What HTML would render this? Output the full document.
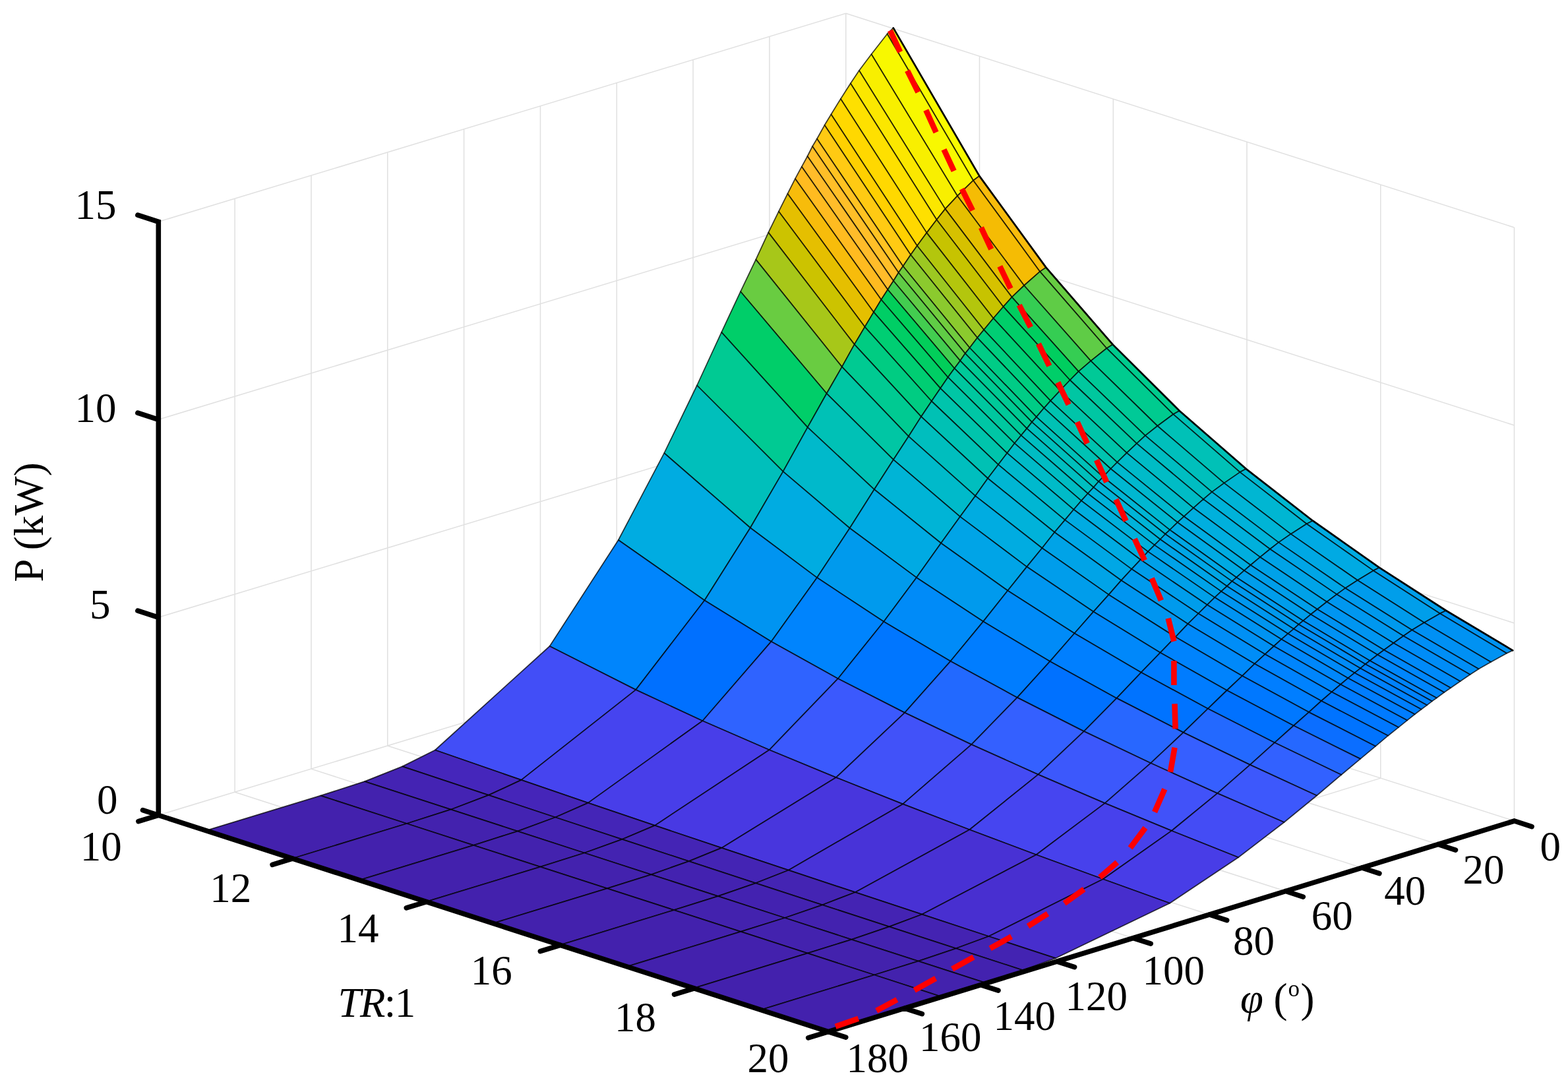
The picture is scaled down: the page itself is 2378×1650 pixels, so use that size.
<!DOCTYPE html>
<html lang="en"><head><meta charset="utf-8"><title>P (kW) vs TR:1 and φ (°)</title>
<style>html,body{margin:0;padding:0;background:#fff}body{width:2378px;height:1650px;overflow:hidden}svg{display:block}</style></head>
<body>
<svg xmlns="http://www.w3.org/2000/svg" width="2378" height="1650" viewBox="0 0 2378 1650">
<rect width="2378" height="1650" fill="#fff"/>
<path d="M1282.8,920.3 L1282.8,20.3 M1167,955.4 L1167,55.4 M1051.1,990.5 L1051.1,90.5 M935.3,1025.6 L935.3,125.6 M819.5,1060.7 L819.5,160.7 M703.6,1095.9 L703.6,195.9 M587.8,1131 L587.8,231 M472,1166.1 L472,266.1 M356.1,1201.2 L356.1,301.2 M1282.8,920.3 L240.3,1236.3 M1282.8,920.3 L2296.5,1245 M1282.8,620.3 L240.3,936.3 M1282.8,620.3 L2296.5,945 M1282.8,320.3 L240.3,636.3 M1282.8,320.3 L2296.5,645 M1282.8,20.3 L240.3,336.3 M1282.8,20.3 L2296.5,345 M1485.5,985.2 L1485.5,85.2 M1688.3,1050.2 L1688.3,150.2 M1891,1115.1 L1891,215.1 M2093.8,1180.1 L2093.8,280.1 M2296.5,1245 L2296.5,345 M1167,955.4 L2180.9,1280.5 M1051.1,990.5 L2065.3,1316 M935.3,1025.6 L1949.7,1351.5 M819.5,1060.7 L1834.1,1387 M703.6,1095.9 L1718.6,1422.6 M587.8,1131 L1603,1458.1 M472,1166.1 L1487.4,1493.6 M356.1,1201.2 L1371.8,1529.1 M1485.5,985.2 L443.5,1302 M1688.3,1050.2 L646.7,1367.6 M1891,1115.1 L849.8,1433.3 M2093.8,1180.1 L1053,1498.9" fill="none" stroke="#e0e0e0" stroke-width="1.5"/>
<g stroke="#000" stroke-opacity="0.74" stroke-width="1.75" stroke-linejoin="round">
<path d="M1354.8,42.4 L1485.3,266.9 L1476,273.7 L1345.5,51.5Z" fill="#f9fb00"/>
<path d="M1345.5,51.5 L1476,273.7 L1452,297.2 L1321.5,82.2Z" fill="#f8f800"/>
<path d="M1321.5,82.2 L1452,297.2 L1433.5,316.9 L1302.9,107Z" fill="#f8ef00"/>
<path d="M1302.9,107 L1433.5,316.9 L1420.5,333.3 L1289.9,126.5Z" fill="#fbe700"/>
<path d="M1289.9,126.5 L1420.5,333.3 L1405.4,353.1 L1274.9,150Z" fill="#fee000"/>
<path d="M1274.9,150 L1405.4,353.1 L1390.9,372.8 L1260.4,173.5Z" fill="#ffd800"/>
<path d="M1260.4,173.5 L1390.9,372.8 L1381.1,386.5 L1250.5,189.8Z" fill="#ffd001"/>
<path d="M1250.5,189.8 L1381.1,386.5 L1369.5,403.8 L1239,210.5Z" fill="#ffca13"/>
<path d="M1239,210.5 L1369.5,403.8 L1362.7,413.5 L1232.1,222Z" fill="#ffc322"/>
<path d="M1232.1,222 L1362.7,413.5 L1355,426 L1224.5,237Z" fill="#ffbf28"/>
<path d="M1224.5,237 L1355,426 L1346.3,439.2 L1215.8,252.8Z" fill="#ffbc2a"/>
<path d="M1215.8,252.8 L1346.3,439.2 L1336.4,454.5 L1205.9,271.1Z" fill="#ffbb20"/>
<path d="M1205.9,271.1 L1336.4,454.5 L1325,473.4 L1194.4,293.8Z" fill="#f7bc0b"/>
<path d="M1194.4,293.8 L1325,473.4 L1311.6,495.8 L1181,320.7Z" fill="#e5bf00"/>
<path d="M1181,320.7 L1311.6,495.8 L1295.8,522.4 L1165.3,352.6Z" fill="#ccc300"/>
<path d="M1165.3,352.6 L1295.8,522.4 L1276.9,556.4 L1146.3,393.6Z" fill="#a7c719"/>
<path d="M1146.3,393.6 L1276.9,556.4 L1253.7,596.8 L1123.1,442.2Z" fill="#69cc41"/>
<path d="M1123.1,442.2 L1253.7,596.8 L1224.8,648.1 L1094.2,503.9Z" fill="#00ce69"/>
<path d="M1094.2,503.9 L1224.8,648.1 L1187.6,715.1 L1057,584.5Z" fill="#00ca93"/>
<path d="M1057,584.5 L1187.6,715.1 L1137.9,800.5 L1007.3,687.2Z" fill="#00bfbb"/>
<path d="M1007.3,687.2 L1137.9,800.5 L1068.5,910.5 L937.8,819Z" fill="#00ace1"/>
<path d="M937.8,819 L1068.5,910.5 L964.3,1046.1 L833.6,980Z" fill="#0085fc"/>
<path d="M833.6,980 L964.3,1046.1 L790.6,1182.9 L659.9,1137.5Z" fill="#424ef7"/>
<path d="M659.9,1137.5 L790.6,1182.9 L741,1205.9 L610.2,1162.4Z" fill="#4526bb"/>
<path d="M610.2,1162.4 L741,1205.9 L683.7,1227.7 L553,1185.1Z" fill="#4423b3"/>
<path d="M553,1185.1 L683.7,1227.7 L616.9,1249 L486.2,1206.7Z" fill="#4322ae"/>
<path d="M486.2,1206.7 L616.9,1249 L443.2,1302 L312.4,1259.6Z" fill="#4321ad"/>
<path d="M1485.3,266.9 L1586.4,405.6 L1577.1,411.9 L1476,273.7Z" fill="#f8bc0c"/>
<path d="M1476,273.7 L1577.1,411.9 L1553.1,433 L1452,297.2Z" fill="#f5bc04"/>
<path d="M1452,297.2 L1553.1,433 L1534.6,450.6 L1433.5,316.9Z" fill="#e5bf00"/>
<path d="M1433.5,316.9 L1534.6,450.6 L1521.6,465.2 L1420.5,333.3Z" fill="#d6c100"/>
<path d="M1420.5,333.3 L1521.6,465.2 L1506.5,482.7 L1405.4,353.1Z" fill="#c7c300"/>
<path d="M1405.4,353.1 L1506.5,482.7 L1492.1,500.2 L1390.9,372.8Z" fill="#b3c60d"/>
<path d="M1390.9,372.8 L1492.1,500.2 L1482.2,512.3 L1381.1,386.5Z" fill="#9cc822"/>
<path d="M1381.1,386.5 L1482.2,512.3 L1470.6,527.5 L1369.5,403.8Z" fill="#8bca2e"/>
<path d="M1369.5,403.8 L1470.6,527.5 L1463.8,536.1 L1362.7,413.5Z" fill="#71cc3e"/>
<path d="M1362.7,413.5 L1463.8,536.1 L1456.2,547.1 L1355,426Z" fill="#60cc46"/>
<path d="M1355,426 L1456.2,547.1 L1447.5,558.7 L1346.3,439.2Z" fill="#43cd50"/>
<path d="M1346.3,439.2 L1447.5,558.7 L1437.6,572.2 L1336.4,454.5Z" fill="#02ce5a"/>
<path d="M1336.4,454.5 L1437.6,572.2 L1426.1,588.9 L1325,473.4Z" fill="#00ce65"/>
<path d="M1325,473.4 L1426.1,588.9 L1412.8,608.5 L1311.6,495.8Z" fill="#00ce73"/>
<path d="M1311.6,495.8 L1412.8,608.5 L1397,631.9 L1295.8,522.4Z" fill="#00cc82"/>
<path d="M1295.8,522.4 L1397,631.9 L1378,661.8 L1276.9,556.4Z" fill="#00ca92"/>
<path d="M1276.9,556.4 L1378,661.8 L1354.9,697.2 L1253.7,596.8Z" fill="#00c6a4"/>
<path d="M1253.7,596.8 L1354.9,697.2 L1325.9,742.3 L1224.8,648.1Z" fill="#00c1b6"/>
<path d="M1224.8,648.1 L1325.9,742.3 L1288.7,801 L1187.6,715.1Z" fill="#00b9cb"/>
<path d="M1187.6,715.1 L1288.7,801 L1239.1,876.1 L1137.9,800.5Z" fill="#00ace1"/>
<path d="M1137.9,800.5 L1239.1,876.1 L1169.7,972.9 L1068.5,910.5Z" fill="#0094f1"/>
<path d="M1068.5,910.5 L1169.7,972.9 L1065.5,1093.2 L964.3,1046.1Z" fill="#0070ff"/>
<path d="M964.3,1046.1 L1065.5,1093.2 L891.9,1217.6 L790.6,1182.9Z" fill="#4644ef"/>
<path d="M790.6,1182.9 L891.9,1217.6 L842.2,1239.5 L741,1205.9Z" fill="#4525b9"/>
<path d="M741,1205.9 L842.2,1239.5 L785,1260.6 L683.7,1227.7Z" fill="#4323b2"/>
<path d="M683.7,1227.7 L785,1260.6 L718.2,1281.8 L616.9,1249Z" fill="#4322ae"/>
<path d="M616.9,1249 L718.2,1281.8 L544.6,1334.8 L443.2,1302Z" fill="#4321ad"/>
<path d="M1586.4,405.6 L1687.5,522.4 L1678.3,528.2 L1577.1,411.9Z" fill="#67cc42"/>
<path d="M1577.1,411.9 L1678.3,528.2 L1654.3,547.4 L1553.1,433Z" fill="#5fcc46"/>
<path d="M1553.1,433 L1654.3,547.4 L1635.7,563.4 L1534.6,450.6Z" fill="#35cd53"/>
<path d="M1534.6,450.6 L1635.7,563.4 L1622.7,576.5 L1521.6,465.2Z" fill="#00ce5f"/>
<path d="M1521.6,465.2 L1622.7,576.5 L1607.7,592.3 L1506.5,482.7Z" fill="#00ce69"/>
<path d="M1506.5,482.7 L1607.7,592.3 L1593.2,607.9 L1492.1,500.2Z" fill="#00ce74"/>
<path d="M1492.1,500.2 L1593.2,607.9 L1583.4,618.8 L1482.2,512.3Z" fill="#00cd7f"/>
<path d="M1482.2,512.3 L1583.4,618.8 L1571.8,632.4 L1470.6,527.5Z" fill="#00cc86"/>
<path d="M1470.6,527.5 L1571.8,632.4 L1565,640.1 L1463.8,536.1Z" fill="#00cb8f"/>
<path d="M1463.8,536.1 L1565,640.1 L1557.3,649.9 L1456.2,547.1Z" fill="#00ca93"/>
<path d="M1456.2,547.1 L1557.3,649.9 L1548.6,660.3 L1447.5,558.7Z" fill="#00c999"/>
<path d="M1447.5,558.7 L1548.6,660.3 L1538.7,672.3 L1437.6,572.2Z" fill="#00c79f"/>
<path d="M1437.6,572.2 L1538.7,672.3 L1527.3,687.2 L1426.1,588.9Z" fill="#00c6a5"/>
<path d="M1426.1,588.9 L1527.3,687.2 L1513.9,704.7 L1412.8,608.5Z" fill="#00c4ac"/>
<path d="M1412.8,608.5 L1513.9,704.7 L1498.1,725.5 L1397,631.9Z" fill="#00c1b4"/>
<path d="M1397,631.9 L1498.1,725.5 L1479.2,752.1 L1378,661.8Z" fill="#00bebe"/>
<path d="M1378,661.8 L1479.2,752.1 L1456.1,783.6 L1354.9,697.2Z" fill="#00baca"/>
<path d="M1354.9,697.2 L1456.1,783.6 L1427.1,823.7 L1325.9,742.3Z" fill="#00b4d6"/>
<path d="M1325.9,742.3 L1427.1,823.7 L1389.9,875.9 L1288.7,801Z" fill="#00aae3"/>
<path d="M1288.7,801 L1389.9,875.9 L1340.3,942.7 L1239.1,876.1Z" fill="#009aed"/>
<path d="M1239.1,876.1 L1340.3,942.7 L1270.9,1029.2 L1169.7,972.9Z" fill="#0084fd"/>
<path d="M1169.7,972.9 L1270.9,1029.2 L1166.7,1137.3 L1065.5,1093.2Z" fill="#2f63ff"/>
<path d="M1065.5,1093.2 L1166.7,1137.3 L993.1,1251.9 L891.9,1217.6Z" fill="#483ee9"/>
<path d="M891.9,1217.6 L993.1,1251.9 L943.5,1272.9 L842.2,1239.5Z" fill="#4425b7"/>
<path d="M842.2,1239.5 L943.5,1272.9 L886.3,1293.5 L785,1260.6Z" fill="#4323b1"/>
<path d="M785,1260.6 L886.3,1293.5 L819.5,1314.6 L718.2,1281.8Z" fill="#4322ae"/>
<path d="M718.2,1281.8 L819.5,1314.6 L645.9,1367.6 L544.6,1334.8Z" fill="#4321ad"/>
<path d="M1687.5,522.4 L1788.7,622.9 L1779.4,628.3 L1678.3,528.2Z" fill="#00cb8d"/>
<path d="M1678.3,528.2 L1779.4,628.3 L1755.4,646 L1654.3,547.4Z" fill="#00cb8f"/>
<path d="M1654.3,547.4 L1755.4,646 L1736.9,660.6 L1635.7,563.4Z" fill="#00c997"/>
<path d="M1635.7,563.4 L1736.9,660.6 L1723.9,672.6 L1622.7,576.5Z" fill="#00c79e"/>
<path d="M1622.7,576.5 L1723.9,672.6 L1708.8,686.9 L1607.7,592.3Z" fill="#00c6a3"/>
<path d="M1607.7,592.3 L1708.8,686.9 L1694.3,701.1 L1593.2,607.9Z" fill="#00c4a9"/>
<path d="M1593.2,607.9 L1694.3,701.1 L1684.5,711 L1583.4,618.8Z" fill="#00c3b0"/>
<path d="M1583.4,618.8 L1684.5,711 L1672.9,723.3 L1571.8,632.4Z" fill="#00c1b4"/>
<path d="M1571.8,632.4 L1672.9,723.3 L1666.1,730.3 L1565,640.1Z" fill="#00c0b9"/>
<path d="M1565,640.1 L1666.1,730.3 L1658.5,739.1 L1557.3,649.9Z" fill="#00bfbc"/>
<path d="M1557.3,649.9 L1658.5,739.1 L1649.8,748.5 L1548.6,660.3Z" fill="#00bec0"/>
<path d="M1548.6,660.3 L1649.8,748.5 L1639.9,759.4 L1538.7,672.3Z" fill="#00bcc3"/>
<path d="M1538.7,672.3 L1639.9,759.4 L1628.4,772.8 L1527.3,687.2Z" fill="#00bbc8"/>
<path d="M1527.3,687.2 L1628.4,772.8 L1615.1,788.6 L1513.9,704.7Z" fill="#00b9cd"/>
<path d="M1513.9,704.7 L1615.1,788.6 L1599.3,807.3 L1498.1,725.5Z" fill="#00b6d3"/>
<path d="M1498.1,725.5 L1599.3,807.3 L1580.4,831.2 L1479.2,752.1Z" fill="#00b2da"/>
<path d="M1479.2,752.1 L1580.4,831.2 L1557.2,859.6 L1456.1,783.6Z" fill="#00ace1"/>
<path d="M1456.1,783.6 L1557.2,859.6 L1528.3,895.7 L1427.1,823.7Z" fill="#00a4e7"/>
<path d="M1427.1,823.7 L1528.3,895.7 L1491.1,942.6 L1389.9,875.9Z" fill="#009aed"/>
<path d="M1389.9,875.9 L1491.1,942.6 L1441.5,1002.8 L1340.3,942.7Z" fill="#008bf8"/>
<path d="M1340.3,942.7 L1441.5,1002.8 L1372.1,1080.9 L1270.9,1029.2Z" fill="#0076ff"/>
<path d="M1270.9,1029.2 L1372.1,1080.9 L1268,1179.1 L1166.7,1137.3Z" fill="#3b59fd"/>
<path d="M1166.7,1137.3 L1268,1179.1 L1094.4,1285.9 L993.1,1251.9Z" fill="#4839e3"/>
<path d="M993.1,1251.9 L1094.4,1285.9 L1044.8,1306.1 L943.5,1272.9Z" fill="#4424b5"/>
<path d="M943.5,1272.9 L1044.8,1306.1 L987.6,1326.3 L886.3,1293.5Z" fill="#4323b1"/>
<path d="M886.3,1293.5 L987.6,1326.3 L920.8,1347.4 L819.5,1314.6Z" fill="#4322ae"/>
<path d="M819.5,1314.6 L920.8,1347.4 L747.2,1400.4 L645.9,1367.6Z" fill="#4321ad"/>
<path d="M1788.7,622.9 L1889.8,711.1 L1880.5,716.1 L1779.4,628.3Z" fill="#00c1b6"/>
<path d="M1779.4,628.3 L1880.5,716.1 L1856.5,732.6 L1755.4,646Z" fill="#00c1b7"/>
<path d="M1755.4,646 L1856.5,732.6 L1838,746.1 L1736.9,660.6Z" fill="#00bfbc"/>
<path d="M1736.9,660.6 L1838,746.1 L1825,757.1 L1723.9,672.6Z" fill="#00bdc1"/>
<path d="M1723.9,672.6 L1825,757.1 L1809.9,770.3 L1708.8,686.9Z" fill="#00bcc5"/>
<path d="M1708.8,686.9 L1809.9,770.3 L1795.5,783.3 L1694.3,701.1Z" fill="#00bac9"/>
<path d="M1694.3,701.1 L1795.5,783.3 L1785.7,792.3 L1684.5,711Z" fill="#00b8ce"/>
<path d="M1684.5,711 L1785.7,792.3 L1774.1,803.6 L1672.9,723.3Z" fill="#00b7d1"/>
<path d="M1672.9,723.3 L1774.1,803.6 L1767.3,810 L1666.1,730.3Z" fill="#00b5d5"/>
<path d="M1666.1,730.3 L1767.3,810 L1759.6,818 L1658.5,739.1Z" fill="#00b4d7"/>
<path d="M1658.5,739.1 L1759.6,818 L1750.9,826.6 L1649.8,748.5Z" fill="#00b2da"/>
<path d="M1649.8,748.5 L1750.9,826.6 L1741,836.6 L1639.9,759.4Z" fill="#00b0dc"/>
<path d="M1639.9,759.4 L1741,836.6 L1729.6,848.8 L1628.4,772.8Z" fill="#00aedf"/>
<path d="M1628.4,772.8 L1729.6,848.8 L1716.2,863.1 L1615.1,788.6Z" fill="#00abe2"/>
<path d="M1615.1,788.6 L1716.2,863.1 L1700.5,880.2 L1599.3,807.3Z" fill="#00a7e5"/>
<path d="M1599.3,807.3 L1700.5,880.2 L1681.5,901.9 L1580.4,831.2Z" fill="#00a3e7"/>
<path d="M1580.4,831.2 L1681.5,901.9 L1658.4,927.7 L1557.2,859.6Z" fill="#009deb"/>
<path d="M1557.2,859.6 L1658.4,927.7 L1629.5,960.5 L1528.3,895.7Z" fill="#0096f0"/>
<path d="M1528.3,895.7 L1629.5,960.5 L1592.3,1003.1 L1491.1,942.6Z" fill="#008bf8"/>
<path d="M1491.1,942.6 L1592.3,1003.1 L1542.7,1057.9 L1441.5,1002.8Z" fill="#007dff"/>
<path d="M1441.5,1002.8 L1542.7,1057.9 L1473.3,1129.1 L1372.1,1080.9Z" fill="#2269ff"/>
<path d="M1372.1,1080.9 L1473.3,1129.1 L1369.2,1219.4 L1268,1179.1Z" fill="#4152f9"/>
<path d="M1268,1179.1 L1369.2,1219.4 L1195.7,1319.7 L1094.4,1285.9Z" fill="#4836dd"/>
<path d="M1094.4,1285.9 L1195.7,1319.7 L1146.1,1339.3 L1044.8,1306.1Z" fill="#4424b4"/>
<path d="M1044.8,1306.1 L1146.1,1339.3 L1088.9,1359.2 L987.6,1326.3Z" fill="#4322b0"/>
<path d="M987.6,1326.3 L1088.9,1359.2 L1022.1,1380.1 L920.8,1347.4Z" fill="#4322ae"/>
<path d="M920.8,1347.4 L1022.1,1380.1 L848.6,1433.3 L747.2,1400.4Z" fill="#4321ad"/>
<path d="M1889.8,711.1 L1990.9,789.7 L1981.6,794.5 L1880.5,716.1Z" fill="#00b7d1"/>
<path d="M1880.5,716.1 L1981.6,794.5 L1957.6,809.9 L1856.5,732.6Z" fill="#00b6d2"/>
<path d="M1856.5,732.6 L1957.6,809.9 L1939.1,822.6 L1838,746.1Z" fill="#00b4d6"/>
<path d="M1838,746.1 L1939.1,822.6 L1926.1,832.8 L1825,757.1Z" fill="#00b2d9"/>
<path d="M1825,757.1 L1926.1,832.8 L1911.1,844.9 L1809.9,770.3Z" fill="#00b0dc"/>
<path d="M1809.9,770.3 L1911.1,844.9 L1896.6,857 L1795.5,783.3Z" fill="#00aedf"/>
<path d="M1795.5,783.3 L1896.6,857 L1886.8,865.3 L1785.7,792.3Z" fill="#00ace1"/>
<path d="M1785.7,792.3 L1886.8,865.3 L1875.2,875.7 L1774.1,803.6Z" fill="#00aae3"/>
<path d="M1774.1,803.6 L1875.2,875.7 L1868.4,881.6 L1767.3,810Z" fill="#00a7e5"/>
<path d="M1767.3,810 L1868.4,881.6 L1860.8,889 L1759.6,818Z" fill="#00a6e6"/>
<path d="M1759.6,818 L1860.8,889 L1852.1,896.9 L1750.9,826.6Z" fill="#00a4e7"/>
<path d="M1750.9,826.6 L1852.1,896.9 L1842.2,906.1 L1741,836.6Z" fill="#00a2e8"/>
<path d="M1741,836.6 L1842.2,906.1 L1830.7,917.3 L1729.6,848.8Z" fill="#00a0e9"/>
<path d="M1729.6,848.8 L1830.7,917.3 L1817.4,930.5 L1716.2,863.1Z" fill="#009deb"/>
<path d="M1716.2,863.1 L1817.4,930.5 L1801.6,946.2 L1700.5,880.2Z" fill="#009aed"/>
<path d="M1700.5,880.2 L1801.6,946.2 L1782.7,966.1 L1681.5,901.9Z" fill="#0095f0"/>
<path d="M1681.5,901.9 L1782.7,966.1 L1759.6,989.8 L1658.4,927.7Z" fill="#008ff5"/>
<path d="M1658.4,927.7 L1759.6,989.8 L1730.6,1019.8 L1629.5,960.5Z" fill="#0088fa"/>
<path d="M1629.5,960.5 L1730.6,1019.8 L1693.5,1058.9 L1592.3,1003.1Z" fill="#007fff"/>
<path d="M1592.3,1003.1 L1693.5,1058.9 L1643.9,1109.1 L1542.7,1057.9Z" fill="#0071ff"/>
<path d="M1542.7,1057.9 L1643.9,1109.1 L1574.5,1174.6 L1473.3,1129.1Z" fill="#3460ff"/>
<path d="M1473.3,1129.1 L1574.5,1174.6 L1470.4,1258.3 L1369.2,1219.4Z" fill="#444bf4"/>
<path d="M1369.2,1219.4 L1470.4,1258.3 L1296.9,1353.2 L1195.7,1319.7Z" fill="#4833d8"/>
<path d="M1195.7,1319.7 L1296.9,1353.2 L1247.3,1372.3 L1146.1,1339.3Z" fill="#4424b3"/>
<path d="M1146.1,1339.3 L1247.3,1372.3 L1190.2,1392 L1088.9,1359.2Z" fill="#4322b0"/>
<path d="M1088.9,1359.2 L1190.2,1392 L1123.4,1412.9 L1022.1,1380.1Z" fill="#4322ae"/>
<path d="M1022.1,1380.1 L1123.4,1412.9 L949.9,1466.1 L848.6,1433.3Z" fill="#4321ad"/>
<path d="M1990.9,789.7 L2092,860.8 L2082.8,865.4 L1981.6,794.5Z" fill="#00abe2"/>
<path d="M1981.6,794.5 L2082.8,865.4 L2058.8,880 L1957.6,809.9Z" fill="#00aae3"/>
<path d="M1957.6,809.9 L2058.8,880 L2040.3,891.9 L1939.1,822.6Z" fill="#00a8e4"/>
<path d="M1939.1,822.6 L2040.3,891.9 L2027.3,901.4 L1926.1,832.8Z" fill="#00a5e6"/>
<path d="M1926.1,832.8 L2027.3,901.4 L2012.2,912.8 L1911.1,844.9Z" fill="#00a3e7"/>
<path d="M1911.1,844.9 L2012.2,912.8 L1997.8,924 L1896.6,857Z" fill="#00a1e8"/>
<path d="M1896.6,857 L1997.8,924 L1987.9,931.8 L1886.8,865.3Z" fill="#009eea"/>
<path d="M1886.8,865.3 L1987.9,931.8 L1976.4,941.4 L1875.2,875.7Z" fill="#009deb"/>
<path d="M1875.2,875.7 L1976.4,941.4 L1969.6,946.9 L1868.4,881.6Z" fill="#009aed"/>
<path d="M1868.4,881.6 L1969.6,946.9 L1961.9,953.8 L1860.8,889Z" fill="#0099ee"/>
<path d="M1860.8,889 L1961.9,953.8 L1953.2,961.1 L1852.1,896.9Z" fill="#0097ef"/>
<path d="M1852.1,896.9 L1953.2,961.1 L1943.3,969.6 L1842.2,906.1Z" fill="#0095f0"/>
<path d="M1842.2,906.1 L1943.3,969.6 L1931.9,980 L1830.7,917.3Z" fill="#0093f2"/>
<path d="M1830.7,917.3 L1931.9,980 L1918.6,992.2 L1817.4,930.5Z" fill="#0090f4"/>
<path d="M1817.4,930.5 L1918.6,992.2 L1902.8,1006.7 L1801.6,946.2Z" fill="#008df7"/>
<path d="M1801.6,946.2 L1902.8,1006.7 L1883.9,1025.1 L1782.7,966.1Z" fill="#0089fa"/>
<path d="M1782.7,966.1 L1883.9,1025.1 L1860.7,1047 L1759.6,989.8Z" fill="#0083fd"/>
<path d="M1759.6,989.8 L1860.7,1047 L1831.8,1074.8 L1730.6,1019.8Z" fill="#007cff"/>
<path d="M1730.6,1019.8 L1831.8,1074.8 L1794.7,1110.9 L1693.5,1058.9Z" fill="#0073ff"/>
<path d="M1693.5,1058.9 L1794.7,1110.9 L1745.1,1157.3 L1643.9,1109.1Z" fill="#2867ff"/>
<path d="M1643.9,1109.1 L1745.1,1157.3 L1675.7,1218.1 L1574.5,1174.6Z" fill="#3c58fc"/>
<path d="M1574.5,1174.6 L1675.7,1218.1 L1571.6,1296.2 L1470.4,1258.3Z" fill="#4645f0"/>
<path d="M1470.4,1258.3 L1571.6,1296.2 L1398.2,1386.7 L1296.9,1353.2Z" fill="#4831d4"/>
<path d="M1296.9,1353.2 L1398.2,1386.7 L1348.6,1405.4 L1247.3,1372.3Z" fill="#4423b3"/>
<path d="M1247.3,1372.3 L1348.6,1405.4 L1291.4,1424.8 L1190.2,1392Z" fill="#4322af"/>
<path d="M1190.2,1392 L1291.4,1424.8 L1224.7,1445.7 L1123.4,1412.9Z" fill="#4322ae"/>
<path d="M1123.4,1412.9 L1224.7,1445.7 L1051.3,1498.9 L949.9,1466.1Z" fill="#4321ad"/>
<path d="M2092,860.8 L2193.1,926 L2183.9,930.4 L2082.8,865.4Z" fill="#009eea"/>
<path d="M2082.8,865.4 L2183.9,930.4 L2159.9,944.2 L2058.8,880Z" fill="#009eea"/>
<path d="M2058.8,880 L2159.9,944.2 L2141.4,955.5 L2040.3,891.9Z" fill="#009bec"/>
<path d="M2040.3,891.9 L2141.4,955.5 L2128.4,964.5 L2027.3,901.4Z" fill="#0099ed"/>
<path d="M2027.3,901.4 L2128.4,964.5 L2113.4,975.2 L2012.2,912.8Z" fill="#0097ef"/>
<path d="M2012.2,912.8 L2113.4,975.2 L2098.9,985.7 L1997.8,924Z" fill="#0095f1"/>
<path d="M1997.8,924 L2098.9,985.7 L2089.1,993 L1987.9,931.8Z" fill="#0092f2"/>
<path d="M1987.9,931.8 L2089.1,993 L2077.5,1002 L1976.4,941.4Z" fill="#0091f4"/>
<path d="M1976.4,941.4 L2077.5,1002 L2070.7,1007.2 L1969.6,946.9Z" fill="#008ef6"/>
<path d="M1969.6,946.9 L2070.7,1007.2 L2063.1,1013.6 L1961.9,953.8Z" fill="#008df7"/>
<path d="M1961.9,953.8 L2063.1,1013.6 L2054.4,1020.4 L1953.2,961.1Z" fill="#008bf8"/>
<path d="M1953.2,961.1 L2054.4,1020.4 L2044.5,1028.4 L1943.3,969.6Z" fill="#008af9"/>
<path d="M1943.3,969.6 L2044.5,1028.4 L2033.1,1038 L1931.9,980Z" fill="#0087fb"/>
<path d="M1931.9,980 L2033.1,1038 L2019.7,1049.4 L1918.6,992.2Z" fill="#0085fc"/>
<path d="M1918.6,992.2 L2019.7,1049.4 L2003.9,1063 L1902.8,1006.7Z" fill="#0082fe"/>
<path d="M1902.8,1006.7 L2003.9,1063 L1985,1080.1 L1883.9,1025.1Z" fill="#007eff"/>
<path d="M1883.9,1025.1 L1985,1080.1 L1961.9,1100.5 L1860.7,1047Z" fill="#0078ff"/>
<path d="M1860.7,1047 L1961.9,1100.5 L1933,1126.3 L1831.8,1074.8Z" fill="#0071ff"/>
<path d="M1831.8,1074.8 L1933,1126.3 L1895.8,1159.9 L1794.7,1110.9Z" fill="#2369ff"/>
<path d="M1794.7,1110.9 L1895.8,1159.9 L1846.3,1203.1 L1745.1,1157.3Z" fill="#365fff"/>
<path d="M1745.1,1157.3 L1846.3,1203.1 L1776.9,1259.9 L1675.7,1218.1Z" fill="#4152f9"/>
<path d="M1675.7,1218.1 L1776.9,1259.9 L1672.9,1333.3 L1571.6,1296.2Z" fill="#4741ec"/>
<path d="M1571.6,1296.2 L1672.9,1333.3 L1499.5,1420 L1398.2,1386.7Z" fill="#482fd0"/>
<path d="M1398.2,1386.7 L1499.5,1420 L1449.9,1438.3 L1348.6,1405.4Z" fill="#4423b2"/>
<path d="M1348.6,1405.4 L1449.9,1438.3 L1392.7,1457.6 L1291.4,1424.8Z" fill="#4322af"/>
<path d="M1291.4,1424.8 L1392.7,1457.6 L1326,1478.5 L1224.7,1445.7Z" fill="#4322ad"/>
<path d="M1224.7,1445.7 L1326,1478.5 L1152.6,1531.8 L1051.3,1498.9Z" fill="#4321ad"/>
<path d="M2193.1,926 L2294.2,986.4 L2285,990.7 L2183.9,930.4Z" fill="#0093f2"/>
<path d="M2183.9,930.4 L2285,990.7 L2261,1003.9 L2159.9,944.2Z" fill="#0092f2"/>
<path d="M2159.9,944.2 L2261,1003.9 L2242.5,1014.6 L2141.4,955.5Z" fill="#0090f4"/>
<path d="M2141.4,955.5 L2242.5,1014.6 L2229.5,1023.1 L2128.4,964.5Z" fill="#008ef6"/>
<path d="M2128.4,964.5 L2229.5,1023.1 L2214.5,1033.2 L2113.4,975.2Z" fill="#008cf7"/>
<path d="M2113.4,975.2 L2214.5,1033.2 L2200,1043.2 L2098.9,985.7Z" fill="#008af9"/>
<path d="M2098.9,985.7 L2200,1043.2 L2190.2,1050 L2089.1,993Z" fill="#0087fb"/>
<path d="M2089.1,993 L2190.2,1050 L2178.7,1058.5 L2077.5,1002Z" fill="#0086fc"/>
<path d="M2077.5,1002 L2178.7,1058.5 L2171.9,1063.4 L2070.7,1007.2Z" fill="#0084fd"/>
<path d="M2070.7,1007.2 L2171.9,1063.4 L2164.2,1069.4 L2063.1,1013.6Z" fill="#0082fe"/>
<path d="M2063.1,1013.6 L2164.2,1069.4 L2155.5,1075.8 L2054.4,1020.4Z" fill="#0081fe"/>
<path d="M2054.4,1020.4 L2155.5,1075.8 L2145.6,1083.3 L2044.5,1028.4Z" fill="#007fff"/>
<path d="M2044.5,1028.4 L2145.6,1083.3 L2134.2,1092.4 L2033.1,1038Z" fill="#007dff"/>
<path d="M2033.1,1038 L2134.2,1092.4 L2120.9,1103.1 L2019.7,1049.4Z" fill="#007aff"/>
<path d="M2019.7,1049.4 L2120.9,1103.1 L2105.1,1115.7 L2003.9,1063Z" fill="#0077ff"/>
<path d="M2003.9,1063 L2105.1,1115.7 L2086.2,1131.7 L1985,1080.1Z" fill="#0073ff"/>
<path d="M1985,1080.1 L2086.2,1131.7 L2063.1,1150.9 L1961.9,1100.5Z" fill="#0b6eff"/>
<path d="M1961.9,1100.5 L2063.1,1150.9 L2034.2,1175 L1933,1126.3Z" fill="#2568ff"/>
<path d="M1933,1126.3 L2034.2,1175 L1997,1206.5 L1895.8,1159.9Z" fill="#3261ff"/>
<path d="M1895.8,1159.9 L1997,1206.5 L1947.5,1247 L1846.3,1203.1Z" fill="#3d58fc"/>
<path d="M1846.3,1203.1 L1947.5,1247 L1878.1,1300.3 L1776.9,1259.9Z" fill="#444cf5"/>
<path d="M1776.9,1259.9 L1878.1,1300.3 L1774.1,1369.7 L1672.9,1333.3Z" fill="#483de7"/>
<path d="M1672.9,1333.3 L1774.1,1369.7 L1600.7,1453.2 L1499.5,1420Z" fill="#472ecd"/>
<path d="M1499.5,1420 L1600.7,1453.2 L1551.2,1471.3 L1449.9,1438.3Z" fill="#4323b2"/>
<path d="M1449.9,1438.3 L1551.2,1471.3 L1494,1490.4 L1392.7,1457.6Z" fill="#4322af"/>
<path d="M1392.7,1457.6 L1494,1490.4 L1427.3,1511.3 L1326,1478.5Z" fill="#4322ad"/>
<path d="M1326,1478.5 L1427.3,1511.3 L1254,1564.6 L1152.6,1531.8Z" fill="#4321ad"/>
</g>
<path d="M1354.8,42.4 L1485.3,266.9 L1586.4,405.6 L1687.5,522.4 L1788.7,622.9 L1889.8,711.1 L1990.9,789.7 L2092,860.8 L2193.1,926 L2294.2,986.4" fill="none" stroke="#000" stroke-width="2.7" stroke-linejoin="round" stroke-linecap="round"/>
<path d="M208.9,326.2 L240.3,336.3 L240.3,1236.3 L1256.2,1564.6 L2296.5,1245 L2323.1,1253.6 M240.3,936.3 l-31.4,-10.1 M240.3,636.3 l-31.4,-10.1 M240.3,1236.3 l-23.8,-7.7 M240.3,1236.3 l-30.4,9.3 M443.5,1302 l-30.4,9.3 M646.7,1367.6 l-30.4,9.3 M849.8,1433.3 l-30.4,9.3 M1053,1498.9 l-30.4,9.3 M1256.2,1564.6 l-30.4,9.3 M2180.9,1280.5 l26.6,8.6 M2065.3,1316 l26.6,8.6 M1949.7,1351.5 l26.6,8.6 M1834.1,1387 l26.6,8.6 M1718.6,1422.6 l26.6,8.6 M1603,1458.1 l26.6,8.6 M1487.4,1493.6 l26.6,8.6 M1371.8,1529.1 l26.6,8.6 M1256.2,1564.6 l26.6,8.6" fill="none" stroke="#000" stroke-width="7.6" stroke-linejoin="miter" stroke-miterlimit="6" stroke-linecap="round"/>
<path d="M1350,46.3 L1365.2,78.9 M1376.1,107.2 L1392.4,139.8 M1404.3,167 L1419.6,200.7 M1431.5,226.7 L1446.7,259.3 M1458.7,286.5 L1475,319.1 M1488,345.2 L1503.3,377.8 M1516.3,403.9 L1532.6,437.6 M1545.7,462.6 L1563,496.3 M1575,521.3 L1591.3,555 M1604.3,580 L1620.7,613.7 M1633.7,640 L1648.9,672.6 M1663,697.6 L1678.3,731.3 M1692.4,757.4 L1707.6,790 M1720.7,817.2 L1735.9,849.8 M1746.7,877 L1760.9,910.7 M1771.7,937.8 L1780.4,972.6 M1780.4,1002.2 L1780.4,1039.1 M1781.5,1067.4 L1782.6,1105.4 M1781.5,1133.7 L1775,1170.7 M1766.3,1196.7 L1751.1,1231.5 M1737,1255.4 L1714.1,1285.9 M1694.3,1307.8 L1668,1330.5 M1644.1,1348.5 L1614.2,1370 M1589,1385.6 L1559.1,1404.7 M1534,1420.3 L1501.7,1438.2 M1476.5,1451.4 L1444.2,1469.4 M1419.1,1483.7 L1386.8,1501.7 M1360.4,1516 L1329.3,1532.8 M1301.8,1544.7 L1267.1,1556.7" fill="none" stroke="#ff0000" stroke-width="8.6"/>
<g font-family="'Liberation Serif', 'DejaVu Serif', serif" font-size="63" fill="#000">
<text x="113.5" y="331.7" text-anchor="start">15</text>
<text x="113.5" y="640.4" text-anchor="start">10</text>
<text x="136" y="937.8" text-anchor="start">5</text>
<text x="147" y="1233.9" text-anchor="start">0</text>
<text x="121.7" y="1305.2" text-anchor="start">10</text>
<text x="318.2" y="1367.8" text-anchor="start">12</text>
<text x="511.5" y="1429.3" text-anchor="start">14</text>
<text x="713.7" y="1493" text-anchor="start">16</text>
<text x="932.1" y="1564.1" text-anchor="start">18</text>
<text x="1133.6" y="1626.1" text-anchor="start">20</text>
<text x="1283.6" y="1626.1" text-anchor="start">180</text>
<text x="1394.1" y="1593.8" text-anchor="start">160</text>
<text x="1506.6" y="1561.5" text-anchor="start">140</text>
<text x="1615.5" y="1531.6" text-anchor="start">120</text>
<text x="1732.5" y="1493.3" text-anchor="start">100</text>
<text x="1870" y="1447.8" text-anchor="start">80</text>
<text x="1988.8" y="1410" text-anchor="start">60</text>
<text x="2099.3" y="1371.5" text-anchor="start">40</text>
<text x="2218.6" y="1340" text-anchor="start">20</text>
<text x="2335.6" y="1305.2" text-anchor="start">0</text>
<text x="512.5" y="1541.7" letter-spacing="-1.6"><tspan font-style="italic">TR</tspan>:1</text>
<text x="1881" y="1534.6"><tspan font-style="italic">φ</tspan> (<tspan font-size="35" dx="1" dy="-23.6">o</tspan><tspan dx="1.5" dy="23.6">)</tspan></text>
<text transform="translate(65.2,792) rotate(-90)" text-anchor="middle">P (kW)</text>
</g>
</svg>
</body></html>
